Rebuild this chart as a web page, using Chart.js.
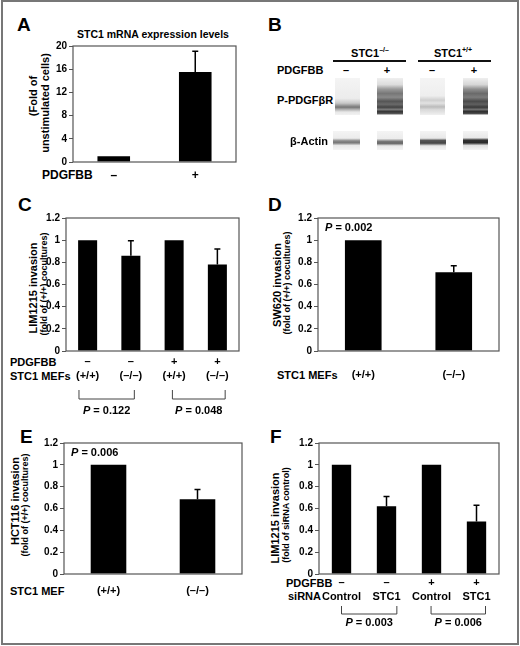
<!DOCTYPE html>
<html>
<head>
<meta charset="utf-8">
<script src="https://cdn.jsdelivr.net/npm/chart.js@4.4.1/dist/chart.umd.min.js"></script>
<style>
  body { margin: 0; background: #fff; }
  #fig { position: relative; width: 520px; height: 646px; overflow: hidden; background: #fff;
         font-family: "Liberation Sans", Arial, sans-serif; font-weight: bold; color: #000; }
  #frame { position: absolute; left: 1px; top: 0; width: 518px; height: 645px; box-sizing: border-box; border: 2px solid #777; }
  .wrap { position: absolute; }
  .t { position: absolute; white-space: nowrap; font-size: 11px; line-height: 14px; }
  .letter { position: absolute; font-size: 19px; line-height: 20px; }
  .rot { position: absolute; white-space: nowrap; line-height: 12px; transform: translate(-50%, -50%) rotate(-90deg); }
  .blot { position: absolute; filter: blur(0.5px); }
  .rule { position: absolute; height: 2px; background: #111; }
  sup { font-size: 7px; vertical-align: 5px; line-height: 0; }
</style>
</head>
<body>
<div id="fig">
  <div id="frame"></div>

  <!-- panel letters -->
  <div class="letter" style="left:17px;top:15px">A</div>
  <div class="letter" style="left:268px;top:15px">B</div>
  <div class="letter" style="left:18px;top:195px">C</div>
  <div class="letter" style="left:268px;top:195px">D</div>
  <div class="letter" style="left:20px;top:427px">E</div>
  <div class="letter" style="left:270px;top:427px">F</div>

  <!-- A -->
  <div class="t" style="left:0;width:306px;text-align:center;top:27px;font-size:10.5px">STC1 mRNA expression levels</div>
  <div class="rot" style="left:33px;top:96px;font-size:11px">(Fold of</div>
  <div class="rot" style="left:45px;top:103px;font-size:11px">unstimulated cells)</div>
  <div class="t" style="left:42px;top:168px;font-size:12px">PDGFBB</div>
  <div class="wrap" style="left:39px;top:38px;width:201px;height:149px"><canvas id="chartA"></canvas></div>

  <!-- B -->
  <div class="t" style="left:320px;width:100px;text-align:center;top:46px">STC1<sup>–/–</sup></div>
  <div class="t" style="left:403px;width:100px;text-align:center;top:46px">STC1<sup>+/+</sup></div>
  <div class="rule" style="left:333px;width:73px;top:60px"></div>
  <div class="rule" style="left:418px;width:73px;top:60px"></div>
  <div class="t" style="left:277px;top:63px">PDGFBB</div>
  <div class="t" style="left:336px;width:20px;text-align:center;top:63px">–</div>
  <div class="t" style="left:377px;width:20px;text-align:center;top:63px">+</div>
  <div class="t" style="left:422px;width:20px;text-align:center;top:63px">–</div>
  <div class="t" style="left:464px;width:20px;text-align:center;top:63px">+</div>
  <div class="t" style="left:277px;top:93px">P-PDGFβR</div>
  <div class="t" style="left:228px;width:100px;text-align:right;top:134px">β-Actin</div>

  <div class="blot" style="left:335px;top:78px;width:25px;height:37px;background:linear-gradient(to bottom,#f4f4f4 0%,#ececec 55%,#c8c8c8 68%,#8a8a8a 76%,#777 79%,#a8a8a8 84%,#e8e8e8 92%,#f2f2f2 100%)"></div>
  <div class="blot" style="left:377px;top:78px;width:26px;height:37px;background:linear-gradient(to bottom,#efefef 0%,#dcdcdc 18%,#9a9a9a 30%,#777 42%,#8a8a8a 52%,#555 63%,#6a6a6a 71%,#444 79%,#7a7a7a 85%,#333 91%,#555 96%,#e8e8e8 100%)"></div>
  <div class="blot" style="left:420px;top:78px;width:25px;height:37px;background:linear-gradient(to bottom,#f4f4f4 0%,#eeeeee 48%,#cfcfcf 60%,#e2e2e2 68%,#bbb 78%,#d8d8d8 85%,#f0f0f0 100%)"></div>
  <div class="blot" style="left:463px;top:78px;width:25px;height:37px;background:linear-gradient(to bottom,#efefef 0%,#d6d6d6 18%,#909090 30%,#6a6a6a 42%,#7c7c7c 52%,#4a4a4a 63%,#606060 71%,#3a3a3a 79%,#707070 85%,#2c2c2c 91%,#4c4c4c 96%,#e8e8e8 100%)"></div>

  <div class="blot" style="left:333px;top:131px;width:27px;height:19px;background:linear-gradient(to bottom,#f4f4f4 0%,#ececec 38%,#888 52%,#777 62%,#e8e8e8 76%,#f4f4f4 100%)"></div>
  <div class="blot" style="left:377px;top:131px;width:26px;height:19px;background:linear-gradient(to bottom,#f4f4f4 0%,#ececec 40%,#777 55%,#666 65%,#e8e8e8 78%,#f4f4f4 100%)"></div>
  <div class="blot" style="left:420px;top:131px;width:26px;height:19px;background:linear-gradient(to bottom,#f4f4f4 0%,#e8e8e8 38%,#555 50%,#444 64%,#e6e6e6 78%,#f4f4f4 100%)"></div>
  <div class="blot" style="left:463px;top:131px;width:25px;height:19px;background:linear-gradient(to bottom,#f4f4f4 0%,#e8e8e8 36%,#333 48%,#2a2a2a 62%,#e0e0e0 76%,#f4f4f4 100%)"></div>

  <!-- C -->
  <div class="rot" style="left:33px;top:288px;font-size:11px">LIM1215 invasion</div>
  <div class="rot" style="left:43.5px;top:284px;font-size:9px">(fold of (+/+) cocultures)</div>
  <div class="t" style="left:10px;top:355px">PDGFBB</div>
  <div class="t" style="left:10px;top:369px">STC1 MEFs</div>
  <div class="wrap" style="left:32px;top:210px;width:211px;height:211px"><canvas id="chartC"></canvas></div>

  <!-- D -->
  <div class="rot" style="left:277px;top:285px;font-size:11px">SW620 invasion</div>
  <div class="rot" style="left:287px;top:283px;font-size:9px">(fold of (+/+) cocultures)</div>
  <div class="t" style="left:277px;top:368px">STC1 MEFs</div>
  <div class="wrap" style="left:284px;top:210px;width:219px;height:171px"><canvas id="chartD"></canvas></div>

  <!-- E -->
  <div class="rot" style="left:15px;top:501px;font-size:11px">HCT116 invasion</div>
  <div class="rot" style="left:24.5px;top:505px;font-size:9px">(fold of (+/+) cocultures)</div>
  <div class="t" style="left:10px;top:584px">STC1 MEF</div>
  <div class="wrap" style="left:30px;top:435px;width:216px;height:169px"><canvas id="chartE"></canvas></div>

  <!-- F -->
  <div class="rot" style="left:275px;top:518px;font-size:11px">LIM1215 invasion</div>
  <div class="rot" style="left:286px;top:515px;font-size:9px">(fold of siRNA control)</div>
  <div class="t" style="left:286px;top:576px">PDGFBB</div>
  <div class="t" style="left:288px;top:589px">siRNA</div>
  <div class="wrap" style="left:285px;top:435px;width:218px;height:199px"><canvas id="chartF"></canvas></div>
</div>

<script>
// A: STC1 mRNA
const aCats = ["–", "+"];
const aValues = [1, 15.5];
const aErrors = [0, 3.6];

// C: LIM1215 invasion with MEF cocultures
const cPdgf = ["–", "–", "+", "+"];
const cMefs = ["(+/+)", "(–/–)", "(+/+)", "(–/–)"];
const cValues = [1, 0.86, 1, 0.78];
const cErrors = [0, 0.135, 0, 0.14];
const cPvals = ["0.122", "0.048"];

// D: SW620 invasion
const dMefs = ["(+/+)", "(–/–)"];
const dValues = [1, 0.71];
const dErrors = [0, 0.06];
const dPval = "0.002";

// E: HCT116 invasion
const eMefs = ["(+/+)", "(–/–)"];
const eValues = [1, 0.685];
const eErrors = [0, 0.09];
const ePval = "0.006";

// F: LIM1215 invasion, siRNA
const fPdgf = ["–", "–", "+", "+"];
const fSirna = ["Control", "STC1", "Control", "STC1"];
const fValues = [1, 0.62, 1, 0.48];
const fErrors = [0, 0.09, 0, 0.15];
const fPvals = ["0.003", "0.006"];

const FONT = '"Liberation Sans", Arial, sans-serif';

function drawP(ctx, text, x, y, align) {
  const pFont = 'italic bold 11px ' + FONT, rFont = 'bold 11px ' + FONT;
  ctx.font = pFont; const w1 = ctx.measureText('P').width;
  ctx.font = rFont; const w2 = ctx.measureText(' = ' + text).width;
  let left = align === 'center' ? x - (w1 + w2) / 2 : x;
  ctx.fillStyle = '#000'; ctx.textBaseline = 'middle'; ctx.textAlign = 'left';
  ctx.font = pFont; ctx.fillText('P', left, y);
  ctx.font = rFont; ctx.fillText(' = ' + text, left + w1, y);
}

function barChart(id, o) {
  const extras = {
    id: 'extras',
    afterDatasetsDraw(chart) {
      const ctx = chart.ctx, y = chart.scales.y, x = chart.scales.x, a = chart.chartArea;
      ctx.save();
      // error bars
      ctx.strokeStyle = '#000'; ctx.lineWidth = 1.5;
      chart.getDatasetMeta(0).data.forEach((bar, i) => {
        const e = o.errors[i];
        if (!e) return;
        const top = y.getPixelForValue(o.values[i] + e);
        ctx.beginPath();
        ctx.moveTo(bar.x, bar.y); ctx.lineTo(bar.x, top);
        ctx.moveTo(bar.x - 3, top); ctx.lineTo(bar.x + 3, top);
        ctx.stroke();
      });
      // plot frame
      ctx.strokeStyle = '#555'; ctx.lineWidth = 1.2;
      ctx.strokeRect(a.left, a.top, a.right - a.left, a.bottom - a.top);
      // brackets with p values
      (o.spans || []).forEach(sp => {
        const x1 = x.getPixelForValue(sp.from), x2 = x.getPixelForValue(sp.to);
        const y1 = a.bottom + o.brTop, y2 = a.bottom + o.brBot;
        ctx.strokeStyle = '#444'; ctx.lineWidth = 1;
        ctx.beginPath();
        ctx.moveTo(x1, y1); ctx.lineTo(x1, y2); ctx.lineTo(x2, y2); ctx.lineTo(x2, y1);
        ctx.stroke();
        drawP(ctx, sp.p, (x1 + x2) / 2, a.bottom + o.pY, 'center');
      });
      if (o.note) drawP(ctx, o.note, a.left + 7, a.top + 10, 'left');
      ctx.restore();
    }
  };
  new Chart(document.getElementById(id), {
    type: 'bar',
    data: {
      labels: o.labels,
      datasets: [{ data: o.values, backgroundColor: '#000', borderWidth: 0,
                   barPercentage: o.barPct, categoryPercentage: 1 }]
    },
    options: {
      responsive: true, maintainAspectRatio: false, animation: false,
      layout: { padding: { top: 8, right: 4, left: 0, bottom: 0 } },
      plugins: { legend: { display: false }, tooltip: { enabled: false } },
      scales: {
        x: {
          grid: { display: false, drawTicks: false }, border: { display: false },
          ticks: { padding: o.xPad, color: '#000', autoSkip: false, maxRotation: 0,
                   font: { family: FONT, size: o.xFont || 11, weight: 'bold', lineHeight: 1.25 } },
          afterFit: s => { s.height = o.xH; }
        },
        y: {
          min: 0, max: o.max,
          border: { display: false },
          grid: { drawOnChartArea: false, tickLength: 4, color: '#555' },
          ticks: { stepSize: o.step, padding: 2, color: '#000',
                   font: { family: FONT, size: 10, weight: 'bold' },
                   callback: v => +(+v).toFixed(1) },
          afterFit: s => { s.width = 34; }
        }
      }
    },
    plugins: [extras]
  });
}

barChart('chartA', { labels: aCats, values: aValues, errors: aErrors, max: 20, step: 4,
  barPct: 0.4, xPad: 6, xH: 25, xFont: 12 });

barChart('chartC', { labels: cPdgf.map((p, i) => [p, cMefs[i]]), values: cValues, errors: cErrors,
  max: 1.2, step: 0.2, barPct: 0.44, xPad: 4, xH: 70, brTop: 39, brBot: 48, pY: 60,
  spans: [{ from: -0.2, to: 1.08, p: cPvals[0] }, { from: 1.96, to: 3.18, p: cPvals[1] }] });

barChart('chartD', { labels: dMefs, values: dValues, errors: dErrors, max: 1.2, step: 0.2,
  barPct: 0.405, xPad: 17, xH: 30, note: dPval });

barChart('chartE', { labels: eMefs, values: eValues, errors: eErrors, max: 1.2, step: 0.2,
  barPct: 0.4, xPad: 10, xH: 30, note: ePval });

barChart('chartF', { labels: fPdgf.map((p, i) => [p, fSirna[i]]), values: fValues, errors: fErrors,
  max: 1.2, step: 0.2, barPct: 0.43, xPad: 2, xH: 60, brTop: 32, brBot: 40, pY: 49,
  spans: [{ from: 0, to: 1.23, p: fPvals[0] }, { from: 1.99, to: 3.2, p: fPvals[1] }] });
</script>
</body>
</html>
